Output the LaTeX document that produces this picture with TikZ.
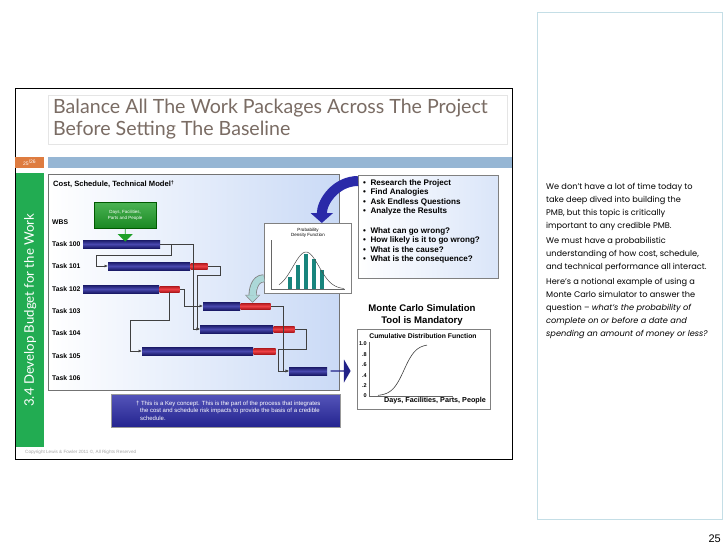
\documentclass[tikz,border=0pt]{standalone}
\usepackage{fontspec}
\setmainfont{Liberation Sans}
\newfontfamily\slidefont{Lato}
\newfontfamily\notefont{Poppins}
\usepackage{tikz}
\usetikzlibrary{positioning,arrows.meta,shapes.arrows}

\definecolor{barblue}{RGB}{40,40,160}
\definecolor{barred}{RGB}{235,32,38}
\definecolor{slidegreen}{RGB}{34,172,82}
\definecolor{slideorange}{RGB}{222,124,64}
\definecolor{stripblue}{RGB}{150,182,212}
\definecolor{titlegrey}{RGB}{122,108,100}
\definecolor{paneledge}{RGB}{196,222,230}
\definecolor{boxblue}{RGB}{202,218,246}
\definecolor{notenavy}{RGB}{42,42,168}
\definecolor{pdfteal}{RGB}{24,132,124}
\definecolor{lightteal}{RGB}{172,216,216}
\definecolor{dppgreen}{RGB}{30,160,40}

\begin{document}
\begin{tikzpicture}[x=1pt, y=-1pt,
  box/.style={anchor=north west, inner sep=0},
  bar/.style={anchor=west, inner sep=0, minimum height=8, top color=barblue!65!black, bottom color=barblue!65!black, middle color=barblue!85!white},
  slip/.style={anchor=west, inner sep=0, minimum height=6, top color=barred!75!black, bottom color=barred!75!black, middle color=barred!85!white},
  link/.style={draw=black!75, line width=0.6, -{Latex[length=3.5,width=3]}},
  task/.style={anchor=west, inner sep=0, font=\bfseries\fontsize{6.8}{7}\selectfont}]
  \useasboundingbox (0,0) rectangle (728,549);
  \fill[white] (0,0) rectangle (728,549);

  % notes side
  \node[box, draw=paneledge, line width=0.8, minimum width=185, minimum height=507] (panel) at (537,12) {};
  \node[box, align=left, font=\notefont\fontsize{8.2}{13}\selectfont] (notes) at (546,183) {%
    We don’t have a lot of time today to\\
    take deep dived into building the\\
    PMB, but this topic is critically\\
    important to any credible PMB.\\[2pt]
    We must have a probabilistic\\
    understanding of how cost, schedule,\\
    and technical performance all interact.\\[2pt]
    Here’s a notional example of using a\\
    Monte Carlo simulator to answer the\\
    question – \textit{what’s the probability of}\\
    \textit{complete on or before a date and}\\
    \textit{spending an amount of money or less?}};
  \node[anchor=east, inner sep=0, font=\fontsize{11}{12}\selectfont] (pageno) at (721,539) {25};

  % slide frame
  \node[box, draw, line width=0.8, minimum width=497, minimum height=371] (slide) at (15,88) {};
  \node[box, draw=black!10, minimum width=459, minimum height=49] (titlebox) at (48,95) {};
  \node[box, align=left, text=titlegrey, font=\slidefont\fontsize{19.6}{21.5}\selectfont] (title) at (53,99)
    {Balance All The Work Packages Across The Project\\Before Setting The Baseline};
  \node[box, fill=slideorange, minimum width=29, minimum height=11, text=white, font=\fontsize{5}{5}\selectfont] (slideno) at (15,157) {25\textsuperscript{/26}};
  \node[box, fill=stripblue, minimum width=464, minimum height=11] (strip) at (48,157) {};
  \node[box, fill=slidegreen, minimum width=28, minimum height=274] (sidebar) at (16,173) {};
  \node[rotate=90, text=white, font=\slidefont\fontsize{13.2}{14}\selectfont] (sidetitle) at (sidebar.center) {3.4 Develop Budget for the Work};
  \node[anchor=west, inner sep=0, text=black!35, font=\fontsize{4.6}{5}\selectfont] (copyright) at (25,452) {Copyright Lewis \& Fowler 2011 \textcopyright, All Rights Reserved};

  % gantt model
  \node[box, draw=black!55, line width=0.6, left color=white, right color=boxblue, minimum width=291, minimum height=216] (model) at (48,174) {};
  \node[box, font=\bfseries\fontsize{7.6}{9}\selectfont] (modeltitle) at (53,180) {Cost, Schedule, Technical Model\textsuperscript{†}};
  \node[task] (wbs) at (52,222) {WBS};
  \node[task] (t100) at (52,244) {Task 100};
  \node[task] (t101) at (52,266) {Task 101};
  \node[task] (t102) at (52,289) {Task 102};
  \node[task] (t103) at (52,311) {Task 103};
  \node[task] (t104) at (52,333) {Task 104};
  \node[task] (t105) at (52,356) {Task 105};
  \node[task] (t106) at (52,378) {Task 106};

  \node[bar, minimum width=77] (b100) at (83,244) {};
  \node[bar, minimum width=82] (b101) at (108,266) {};
  \node[slip, minimum width=17] (r101) at (b101.east) {};
  \node[bar, minimum width=76] (b102) at (83,289) {};
  \node[slip, minimum width=20] (r102) at (b102.east) {};
  \node[bar, minimum width=37] (b103) at (203,306) {};
  \node[slip, minimum width=30] (r103) at (b103.east) {};
  \node[bar, minimum width=73] (b104) at (200,329) {};
  \node[slip, minimum width=21] (r104) at (b104.east) {};
  \node[bar, minimum width=111] (b105) at (142,351) {};
  \node[slip, minimum width=22] (r105) at (b105.east) {};
  \node[bar, minimum width=38] (b106) at (289,371) {};
  \node[single arrow, anchor=tail, inner sep=0, minimum height=20, minimum width=23,
    single arrow head extend=3, single arrow tip angle=120, fill=barblue!85!black] (result) at ([xshift=3pt]b106.east) {};

  \draw[link] (b100.east) -- ++(11,0) -- ++(0,11) -| ([xshift=-12pt]b101.west) -- (b101.west);
  \draw[link] (b100.east) -| ([xshift=-7pt]b104.west) -- (b104.west);
  \draw[link] (r101.east) -- ++(12,0) -- ++(0,9) -| ([xshift=-3pt]b104.west) -- (b104.west);
  \draw[link] (r102.east) -- ++(4,0) |- (b103.west);
  \draw[link] (r102.south) -- ++(0,28) -| ([xshift=-12pt]b105.west) -- (b105.west);
  \draw[link] (r103.east) -| ([xshift=-6pt]b106.west) -- (b106.west);
  \draw[link] (r104.east) -- ++(11,0) -- ++(0,20) -| ([xshift=-11pt]b106.west) -- (b106.west);

  \node[box, draw=green!35!black, top color=dppgreen!80!white, bottom color=dppgreen!85!black, minimum width=62, minimum height=26,
    text=white, align=center, font=\fontsize{4.5}{5.5}\selectfont] (dpp) at (94,202) {Days, Facilities,\\Parts and People};
  \node[single arrow, anchor=tail, inner sep=0, shape border rotate=270, minimum height=13, minimum width=15,
    single arrow head extend=3.5, fill=dppgreen] (dppin) at (dpp.south) {};

  % density function
  \node[box, draw=black!50, line width=0.6, fill=white, minimum width=87, minimum height=70] (pdf) at (264,223) {};
  \node[align=center, inner sep=0, font=\fontsize{4.5}{5.2}\selectfont] (pdftitle) at (308,233) {Probability\\Density Function};
  \draw[black!60, line width=0.6] (271,240) -- (271,289) -- (345,289);
  \foreach \x/\t in {290/277, 298/265, 306/254, 314/259, 322/270}
    \fill[pdfteal] ({\x-2.3},\t) rectangle ({\x+2.3},289);
  \draw[black!70, line width=0.5] plot[domain=279:344, samples=40, smooth] (\x, {289-37*exp(-((\x-306)/13)^2/2)});

  % questions
  \node[box, draw=black!50, line width=0.8, left color=white, right color=boxblue!70, minimum width=140, minimum height=103] (questions) at (358,175) {};
  \node[box, align=left, font=\bfseries\fontsize{8.1}{9.6}\selectfont] (qlist) at (363,179) {%
    \textbullet\ \ Research the Project\\
    \textbullet\ \ Find Analogies\\
    \textbullet\ \ Ask Endless Questions\\
    \textbullet\ \ Analyze the Results\\[9.6pt]
    \textbullet\ \ What can go wrong?\\
    \textbullet\ \ How likely is it to go wrong?\\
    \textbullet\ \ What is the cause?\\
    \textbullet\ \ What is the consequence?};

  \draw[line width=10, color=notenavy, -{Triangle[length=10,width=22]}] ([yshift=-6pt]questions.north west) to[out=180, in=90] ([xshift=14pt]pdf.north);
  \draw[line width=8, color=black!50, -{Triangle[length=8,width=15]}] ([yshift=-20pt]pdf.west) to[out=180, in=90] ([xshift=-3pt]r103.north);
  \draw[line width=6.4, color=lightteal, shorten >=1, -{Triangle[length=6.5,width=12.5]}] ([yshift=-20pt]pdf.west) to[out=180, in=90] ([xshift=-3pt]r103.north);

  % monte carlo
  \node[align=center, font=\bfseries\fontsize{9.6}{11.5}\selectfont] (mctitle) at (422,315) {Monte Carlo Simulation\\Tool is Mandatory};
  \node[box, draw=black!50, line width=0.8, fill=white, minimum width=133, minimum height=80] (cdf) at (357,329) {};
  \node[inner sep=0, font=\bfseries\fontsize{6.8}{7}\selectfont] (cdftitle) at (423,336) {Cumulative Distribution Function};
  \foreach \v [count=\i from 0] in {1.0,.8,.6,.4,.2,0}
    \node[anchor=east, inner sep=0, font=\bfseries\fontsize{5.5}{6}\selectfont] (ytick\i) at (367,{344+10.4*\i}) {\v};
  \draw[black!60, line width=0.6] (369,342) -- (369,396) -- (453,396);
  \draw[black!75, line width=0.6] plot[domain=378:427, samples=40, smooth] (\x, {396-52/(1+exp(-(\x-404)/6))});
  \node[anchor=west, inner sep=0, font=\bfseries\fontsize{7.2}{8}\selectfont] (cdfaxis) at (384,401) {Days, Facilities, Parts, People};

  % key note
  \node[box, draw=black!40, top color=notenavy!80!white, bottom color=notenavy!85!black, minimum width=229, minimum height=33,
    text=white, align=left, font=\fontsize{6}{7.6}\selectfont] (keynote) at (111,394)
    {\hspace{5pt}† This is a Key concept. This is the part of the process that integrates\\
     \hspace{9pt}the cost and schedule risk impacts to provide the basis of a credible\\
     \hspace{9pt}schedule.};
\end{tikzpicture}
\end{document}
